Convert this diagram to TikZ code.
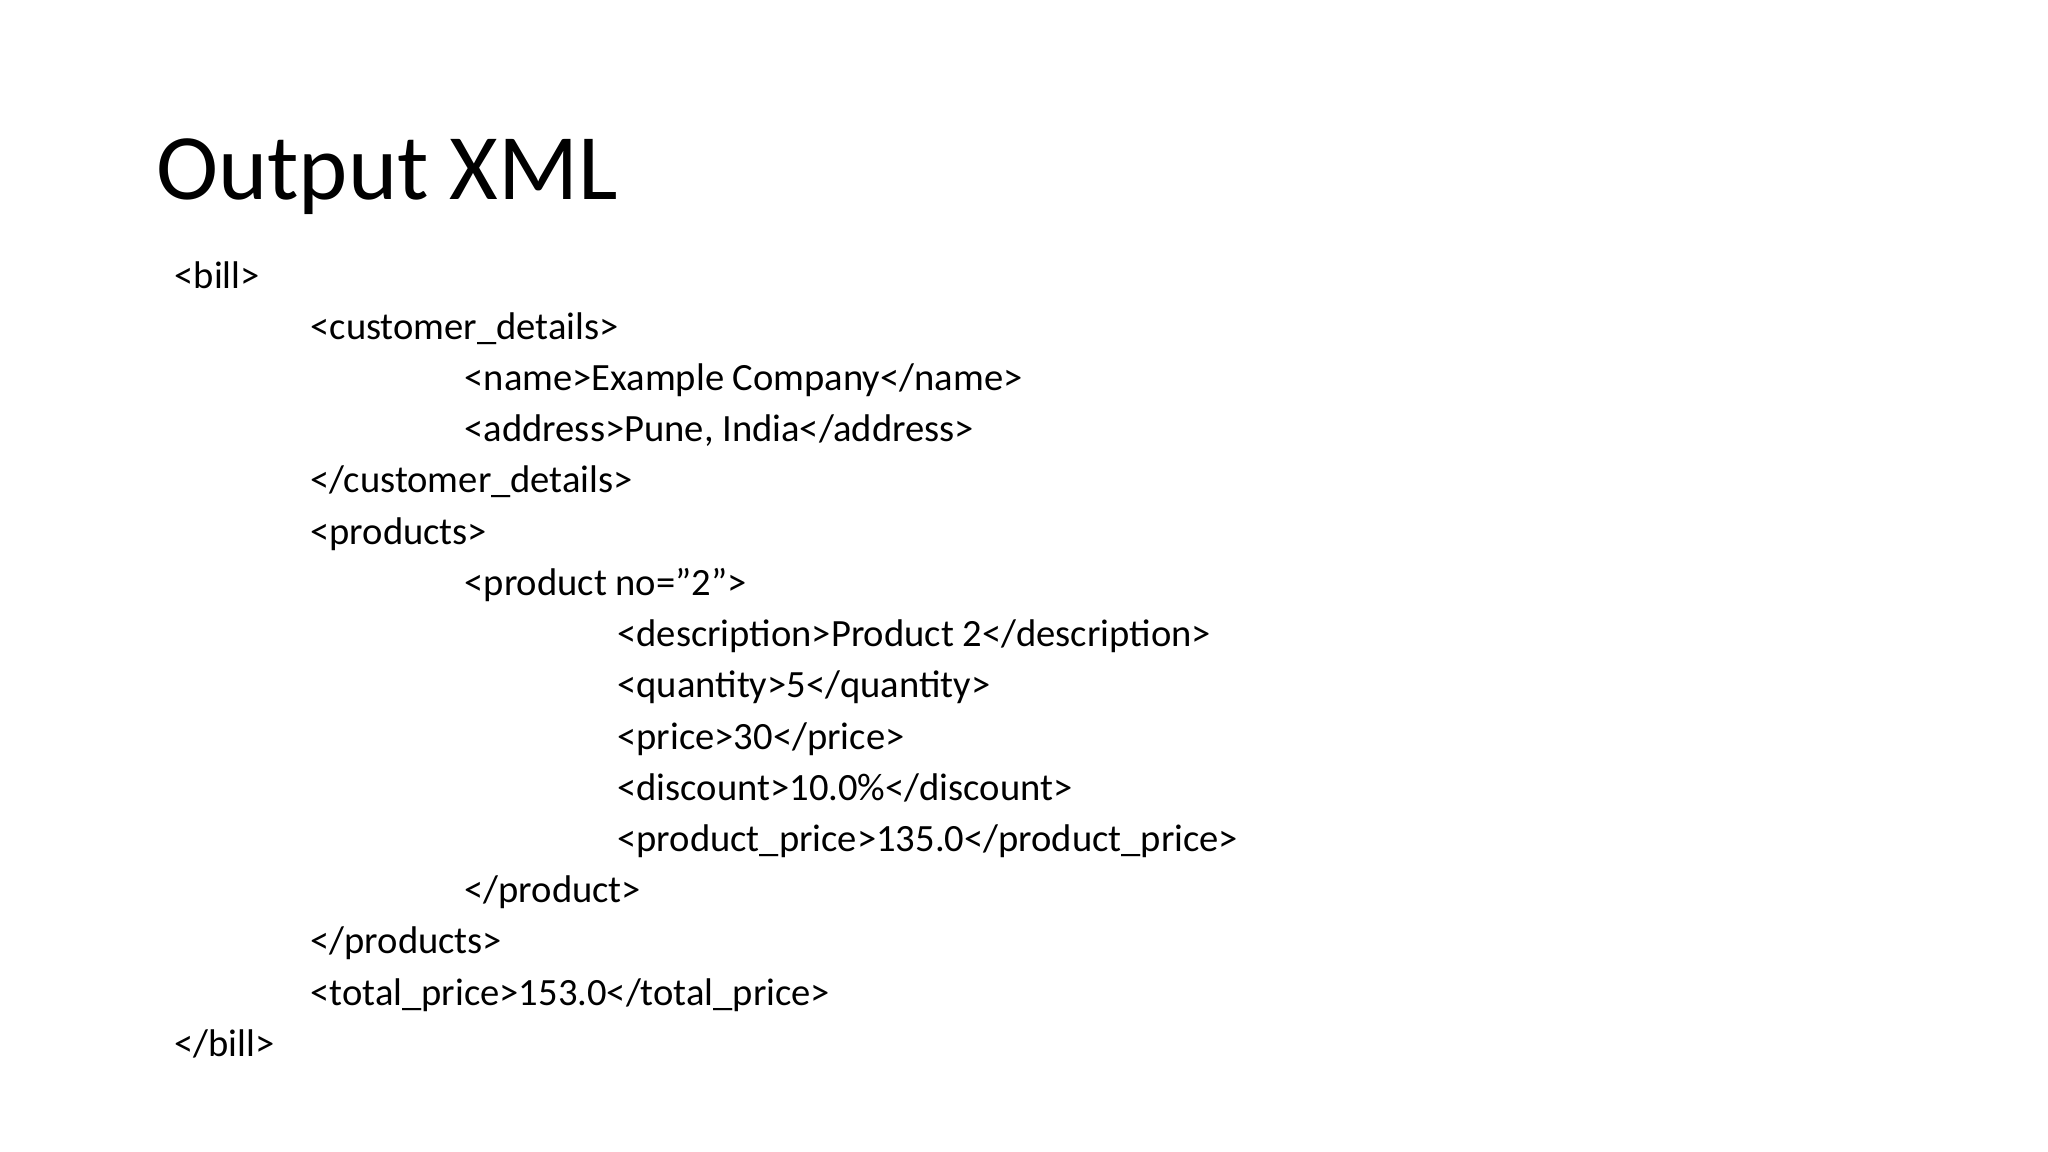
\documentclass[tikz,border=0pt]{standalone}
\usepackage{fontspec}
\setmainfont{Carlito}
\begin{document}
\begin{tikzpicture}[x=0.01cm,y=-0.01cm,
  code/.style={anchor=base west,inner sep=0pt,font=\fontsize{8.4pt}{10pt}\selectfont},
  ttl/.style={anchor=base west,inner sep=0pt,font=\fontsize{20.4pt}{24pt}\selectfont}]
\useasboundingbox[fill=white] (0,0) rectangle (1568,882);
\node[ttl] (title) at (119,153) {Output XML};
\node[code] (l1) at (133,221) {<bill>};
\node[code] (l2) at (237,260) {<customer\_details>};
\node[code] (l3) at (355,299) {<name>Example Company</name>};
\node[code] (l4) at (355,338) {<address>Pune, India</address>};
\node[code] (l5) at (237,377) {</customer\_details>};
\node[code] (l6) at (237,417) {<products>};
\node[code] (l7) at (355,456) {<product no="2">};
\node[code] (l8) at (472,495) {<description>Product 2</description>};
\node[code] (l9) at (472,534) {<quantity>5</quantity>};
\node[code] (l10) at (472,574) {<price>30</price>};
\node[code] (l11) at (472,613) {<discount>10.0\%</discount>};
\node[code] (l12) at (472,652) {<product\_price>135.0</product\_price>};
\node[code] (l13) at (355,691) {</product>};
\node[code] (l14) at (237,730) {</products>};
\node[code] (l15) at (237,770) {<total\_price>153.0</total\_price>};
\node[code] (l16) at (133,809) {</bill>};
\end{tikzpicture}
\end{document}
